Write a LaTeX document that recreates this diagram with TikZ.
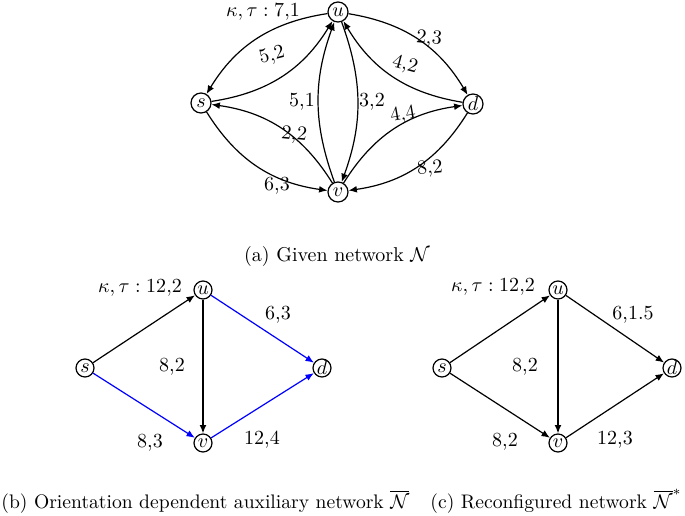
\documentclass[tikz,border=0pt]{standalone}
\usetikzlibrary{arrows.meta}
\begin{document}
\begin{tikzpicture}[x=0.5pt,y=0.5pt,
  vtx/.style={draw,circle,line width=0.6pt,inner sep=0pt,minimum size=10pt},
  vtxs/.style={draw,circle,line width=0.6pt,inner sep=0pt,minimum size=9pt},
  arc/.style={line width=0.6pt,-{Latex[length=4.2pt,width=3.4pt]}},
  barc/.style={arc,blue},
  lbl/.style={inner sep=0pt},
  captext/.style={anchor=base,inner sep=0pt}]
\useasboundingbox (0,0) rectangle (685,515);
% (a) given network
\node[vtx] (u) at (338,503) {$u$};
\node[vtx] (s) at (201,412) {$s$};
\node[vtx] (d) at (473,411) {$d$};
\node[vtx] (v) at (338,323) {$v$};
\draw[arc] (u) to[bend right=25] (s);
\draw[arc] (s) to[bend right=25] (u);
\draw[arc] (u) to[bend left=25] (d);
\draw[arc] (d) to[bend left=25] (u);
\draw[arc] (v) to[bend left=20] (u);
\draw[arc] (u) to[bend left=20] (v);
\draw[arc] (v) to[bend right=25] (s);
\draw[arc] (s) to[bend right=25] (v);
\draw[arc] (v) to[bend left=25] (d);
\draw[arc] (d) to[bend left=25] (v);
\node[lbl] (la1) at (263,503) {$\kappa,\tau : 7{,}1$};
\node[lbl,rotate=15] (la2) at (272,459) {5,2};
\node[lbl,rotate=-6] (la3) at (429,476) {2,3};
\node[lbl,rotate=-15] (la4) at (405,450) {4,2};
\node[lbl] (la5) at (302,413) {5,1};
\node[lbl] (la6) at (372,413) {3,2};
\node[lbl,rotate=-6] (la7) at (294,380) {2,2};
\node[lbl] (la8) at (277,329) {6,3};
\node[lbl,rotate=10] (la9) at (403,400) {4,4};
\node[lbl,rotate=5] (la10) at (430,346) {8,2};
\node[captext] (capa) at (337,254) {(a) Given network $\mathcal{N}$};
% (b) auxiliary network
\node[vtxs] (bs) at (85,147) {$s$};
\node[vtxs] (bu) at (203,225) {$u$};
\node[vtxs] (bd) at (322,147) {$d$};
\node[vtxs] (bv) at (203,72) {$v$};
\draw[arc] (bs) -- (bu);
\draw[arc] (bu) -- (bv);
\draw[barc] (bu) -- (bd);
\draw[barc] (bs) -- (bv);
\draw[barc] (bv) -- (bd);
\node[lbl] (lb1) at (140,227) {$\kappa,\tau : 12{,}2$};
\node[lbl] (lb2) at (278,200) {6,3};
\node[lbl] (lb3) at (172,148) {8,2};
\node[lbl] (lb4) at (150,72) {8,3};
\node[lbl] (lb5) at (262,75) {12,4};
\node[captext,anchor=base west,scale=0.98] (capb) at (1,7) {(b) Orientation dependent auxiliary network $\overline{\mathcal{N}}$};
% (c) reconfigured network
\node[vtxs] (cs) at (442,147) {$s$};
\node[vtxs] (cu) at (558,225) {$u$};
\node[vtxs] (cd) at (672,147) {$d$};
\node[vtxs] (cv) at (558,72) {$v$};
\draw[arc] (cs) -- (cu);
\draw[arc] (cu) -- (cv);
\draw[arc] (cu) -- (cd);
\draw[arc] (cs) -- (cv);
\draw[arc] (cv) -- (cd);
\node[lbl] (lc1) at (493,228) {$\kappa,\tau : 12{,}2$};
\node[lbl] (lc2) at (633,200) {6,1.5};
\node[lbl] (lc3) at (525,148) {8,2};
\node[lbl] (lc4) at (505,73) {8,2};
\node[lbl] (lc5) at (615,75) {12,3};
\node[captext,scale=0.98] (capc) at (556,7) {(c) Reconfigured network $\overline{\mathcal{N}}^{*}$};
\end{tikzpicture}
\end{document}
